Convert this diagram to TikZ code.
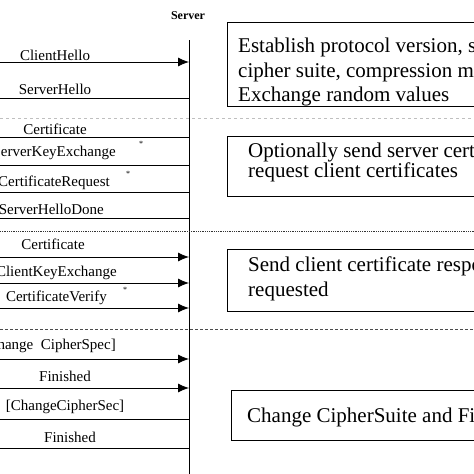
\documentclass[tikz,border=0pt]{standalone}
\usepackage{fontspec}
\setmainfont{Liberation Serif}
\usetikzlibrary{arrows.meta}
\begin{document}
\begin{tikzpicture}[x=1pt,y=-1pt,
 lbl/.style={font=\fontsize{15}{15}\selectfont,inner sep=0pt},
 box/.style={draw,line width=0.8pt},
 btxt/.style={font=\fontsize{21}{21}\selectfont,anchor=west,inner sep=0pt},
 msg/.style={line width=0.8pt},
 arr/.style={msg,-{Latex[length=11pt,width=9pt]}},
 star/.style={font=\fontsize{8}{8}\selectfont,inner sep=0pt}]
\useasboundingbox (0,0) rectangle (474,474);
\clip (0,0) rectangle (474,474);
\node[font=\bfseries\fontsize{12}{12}\selectfont] (srv) at (188,16) {Server};
\coordinate (ltop) at (189,40); \coordinate (lbot) at (189,480);
\draw[line width=0.9pt] (ltop) -- (lbot);
% separators
\coordinate (s1a) at (0,118); \coordinate (s1b) at (474,118);
\draw[gray!50,dashed] (s1a) -- (s1b);
\coordinate (s2a) at (0,231); \coordinate (s2b) at (474,231);
\draw[black!80,densely dotted,line width=0.8pt] (s2a) -- (s2b);
\coordinate (s3a) at (0,329); \coordinate (s3b) at (474,329);
\draw[black!70,densely dashed] (s3a) -- (s3b);
% messages
\foreach \y/\n in {62/a,98/b,137/c,165/d,192/e,218/f,257/g,283/h,308/i,359/j,388/k,419/l,448/m}{
 \coordinate (L\n) at (-20,\y); \coordinate (R\n) at (189,\y);}
\draw[arr] (La) -- (Ra); \draw[msg] (Rb) -- (Lb);
\draw[msg] (Rc) -- (Lc); \draw[msg] (Rd) -- (Ld); \draw[msg] (Re) -- (Le); \draw[msg] (Rf) -- (Lf);
\draw[arr] (Lg) -- (Rg); \draw[arr] (Lh) -- (Rh); \draw[arr] (Li) -- (Ri);
\draw[arr] (Lj) -- (Rj); \draw[arr] (Lk) -- (Rk);
\draw[msg] (Rl) -- (Ll); \draw[msg] (Rm) -- (Lm);
\node[lbl] (ta) at (55,55) {ClientHello};
\node[lbl] (tb) at (55,89) {ServerHello};
\node[lbl] (tc) at (55,129) {Certificate};
\node[lbl,anchor=east] (td) at (116,153) {ServerKeyExchange};
\node[lbl,anchor=east] (te) at (110,183) {CertificateRequest};
\node[lbl,anchor=east] (tf) at (104,209) {ServerHelloDone};
\node[lbl] (tg) at (53,244) {Certificate};
\node[lbl,anchor=east] (th) at (117,273) {ClientKeyExchange};
\node[lbl,anchor=east] (ti) at (107,298) {CertificateVerify};
\node[lbl,anchor=east] (tj) at (116,346) {[Change\ \ CipherSpec]};
\node[lbl] (tk) at (65,376) {Finished};
\node[lbl] (tl) at (65,407) {[ChangeCipherSec]};
\node[lbl] (tm) at (70,437) {Finished};
\node[star] (st1) at (141,144) {*};
\node[star] (st2) at (128,174) {*};
\node[star] (st3) at (125,290) {*};
% boxes
\draw[box] (227,22) -- (480,22) (227,22) -- (227,106) -- (480,106);
\node[btxt] (b1a) at (238,47) {Establish protocol version, session ID,};
\node[btxt] (b1b) at (238,72) {cipher suite, compression method.};
\node[btxt] (b1c) at (238,96) {Exchange random values};
\draw[box] (227,136) -- (480,136) (227,136) -- (227,196) -- (480,196);
\node[btxt] (b2a) at (248,152) {Optionally send server certificates and};
\node[btxt] (b2b) at (248,172) {request client certificates};
\draw[box] (227,249) -- (480,249) (227,249) -- (227,311) -- (480,311);
\node[btxt] (b3a) at (248,266) {Send client certificate response if};
\node[btxt] (b3b) at (248,291) {requested};
\draw[box] (231,390) -- (480,390) (231,390) -- (231,440) -- (480,440);
\node[btxt] (b4a) at (247,417) {Change CipherSuite and Finish};
\end{tikzpicture}
\end{document}
